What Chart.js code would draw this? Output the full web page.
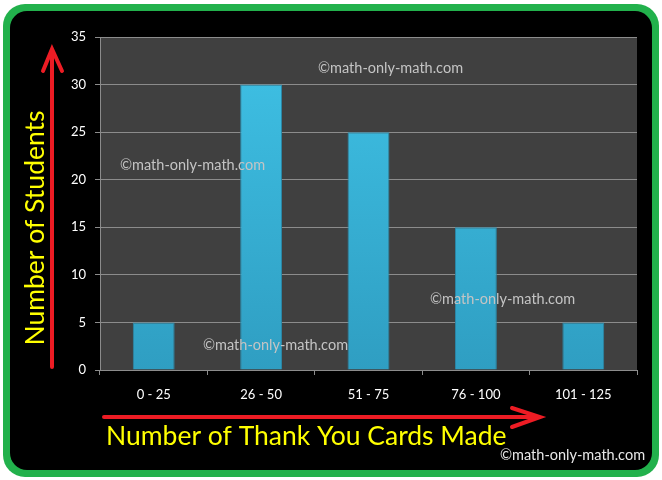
<!DOCTYPE html>
<html>
<head>
<meta charset="utf-8">
<script src="https://cdn.jsdelivr.net/npm/chart.js@4"></script>
<style>
  body { margin: 0; background: #fff; }
</style>
</head>
<body>
<canvas id="myChart" width="662" height="480"></canvas>
<script>
const categories = ['0 - 25', '26 - 50', '51 - 75', '76 - 100', '101 - 125'];
const students = [5, 30, 25, 15, 5];
const yTitle = 'Number of Students';
const xTitle = 'Number of Thank You Cards Made';
const watermark = '\u00A9math-only-math.com';

function roundRect(ctx, x, y, w, h, r) {
    ctx.beginPath();
    ctx.moveTo(x + r, y);
    ctx.arcTo(x + w, y, x + w, y + h, r);
    ctx.arcTo(x + w, y + h, x, y + h, r);
    ctx.arcTo(x, y + h, x, y, r);
    ctx.arcTo(x, y, x + w, y, r);
    ctx.closePath();
}

// frame, dark plot background, arrows, titles and watermarks
const decor = {
    id: 'decor',
    beforeDraw(chart) {
        const ctx = chart.ctx;
        const a = chart.chartArea;
        ctx.save();
        ctx.fillStyle = '#ffffff';
        ctx.fillRect(0, 0, chart.width, chart.height);
        ctx.fillStyle = '#22b14c';
        roundRect(ctx, 3, 4, 656, 473, 22);
        ctx.fill();
        ctx.fillStyle = '#000000';
        roundRect(ctx, 10, 11, 642, 459, 17);
        ctx.fill();
        ctx.fillStyle = '#404040';
        ctx.fillRect(a.left, a.top, a.right - a.left, a.bottom - a.top);
        ctx.restore();
    },
    afterDraw(chart) {
        const ctx = chart.ctx;
        ctx.save();
        // red arrows
        ctx.strokeStyle = '#ed1c24';
        ctx.lineWidth = 4;
        ctx.lineCap = 'round';
        ctx.beginPath();
        ctx.moveTo(52, 367);
        ctx.lineTo(52, 50);
        ctx.moveTo(43, 71);
        ctx.lineTo(52, 49);
        ctx.lineTo(62, 71);
        ctx.moveTo(104, 417);
        ctx.lineTo(539, 417);
        ctx.moveTo(512, 408);
        ctx.lineTo(540, 417);
        ctx.lineTo(512, 427);
        ctx.stroke();

        // axis titles
        ctx.fillStyle = '#ffff00';
        ctx.font = '26.5px Lato';
        ctx.textBaseline = 'alphabetic';
        ctx.textAlign = 'left';
        ctx.fillText(xTitle, 106, 445);
        ctx.save();
        ctx.translate(44, 228);
        ctx.rotate(-Math.PI / 2);
        ctx.textAlign = 'center';
        ctx.fillText(yTitle, 0, 0);
        ctx.restore();

        // watermarks
        ctx.font = '14.5px Lato';
        ctx.fillStyle = '#c4c4c4';
        ctx.textBaseline = 'middle';
        ctx.fillText(watermark, 318, 68);
        ctx.fillText(watermark, 120, 165);
        ctx.fillText(watermark, 203, 345);
        ctx.fillText(watermark, 430, 299);
        ctx.fillStyle = '#e8e8e8';
        ctx.fillText(watermark, 500, 455);
        ctx.restore();
    }
};

function barFill(context) {
    const chart = context.chart;
    const a = chart.chartArea;
    if (!a) {
        return '#3bbde0';
    }
    const g = chart.ctx.createLinearGradient(0, a.top, 0, a.bottom);
    g.addColorStop(0, '#3fc2e6');
    g.addColorStop(1, '#2f9ec2');
    return g;
}

new Chart(document.getElementById('myChart'), {
    type: 'bar',
    data: {
        labels: categories,
        datasets: [{
            label: yTitle,
            data: students,
            backgroundColor: barFill,
            borderColor: '#2a88a8',
            borderWidth: 1,
            categoryPercentage: 1,
            barPercentage: 0.39
        }]
    },
    options: {
        responsive: false,
        animation: false,
        devicePixelRatio: 1,
        layout: { padding: { left: 0, right: 25, top: 37, bottom: 0 } },
        plugins: {
            legend: { display: false },
            tooltip: { enabled: false }
        },
        scales: {
            x: {
                afterFit(scale) { scale.height = 110; },
                grid: {
                    display: true,
                    offset: true,
                    drawOnChartArea: false,
                    drawTicks: true,
                    tickLength: 5,
                    color: '#8c8c8c'
                },
                border: { display: true, color: '#8c8c8c' },
                ticks: {
                    color: '#ffffff',
                    font: { family: 'Lato', size: 13 },
                    padding: 12
                }
            },
            y: {
                min: 0,
                max: 35,
                afterFit(scale) { scale.width = 100; },
                grid: {
                    color: '#8c8c8c',
                    tickLength: 5
                },
                border: { display: true, color: '#8c8c8c' },
                ticks: {
                    stepSize: 5,
                    color: '#ffffff',
                    font: { family: 'Lato', size: 13 },
                    padding: 9
                }
            }
        }
    },
    plugins: [decor]
});
</script>
</body>
</html>
